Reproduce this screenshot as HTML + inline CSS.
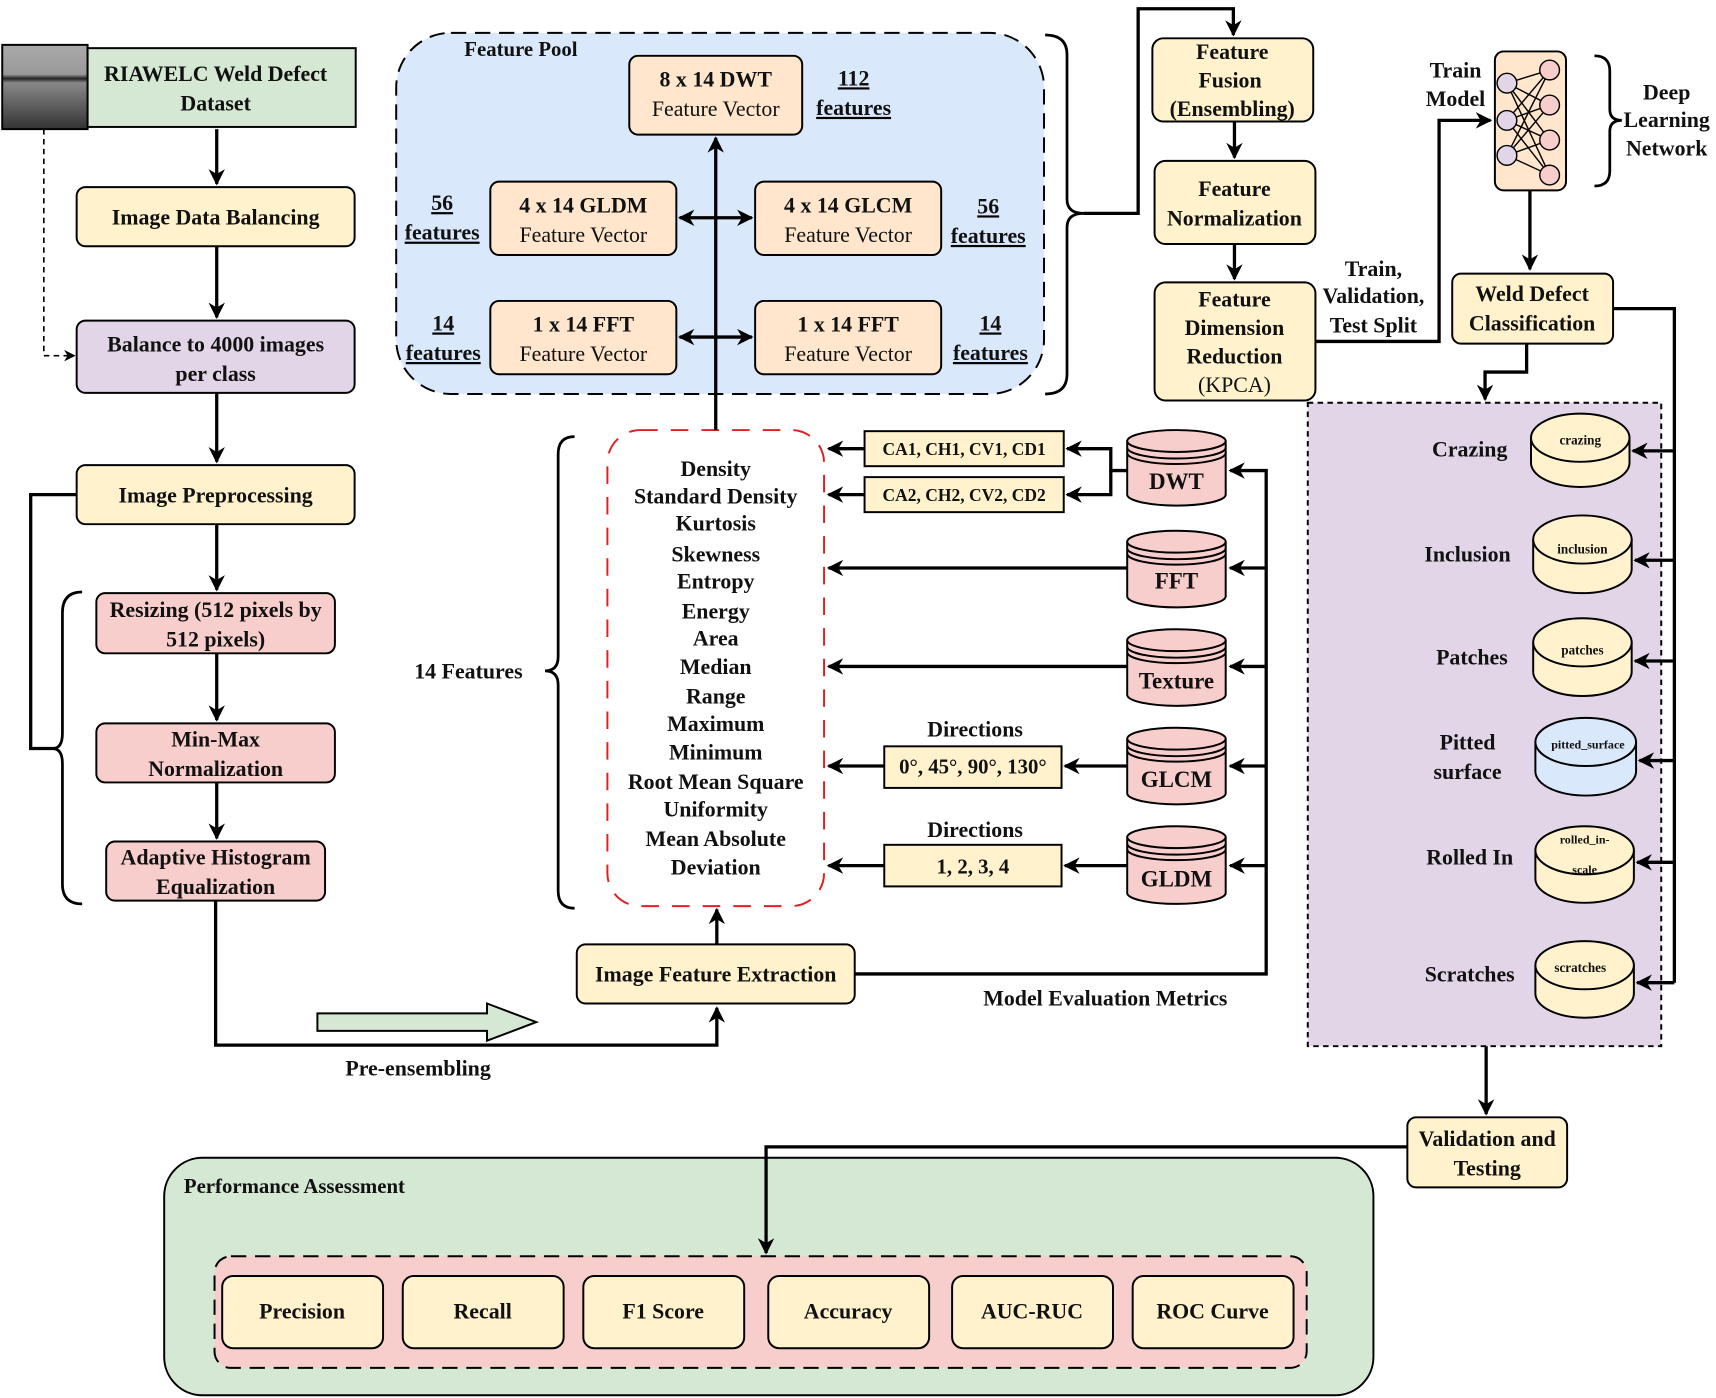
<!DOCTYPE html>
<html><head><meta charset="utf-8"><style>
html,body{margin:0;padding:0;background:#fff}
svg{display:block}
text{font-family:"Liberation Serif","Times New Roman",serif;font-weight:bold;fill:#111}
text.n{font-weight:normal}
</style></head><body>
<svg width="1716" height="1398" viewBox="0 0 1568 1277.5" xmlns="http://www.w3.org/2000/svg">
<defs>
<marker id="a" viewBox="0 0 10 10" refX="9" refY="5" markerWidth="5" markerHeight="5" orient="auto-start-reverse"><path d="M0,0 L10,5 L0,10 L3,5 z" fill="#000"/></marker>
<marker id="s" viewBox="0 0 10 10" refX="9" refY="5" markerWidth="7" markerHeight="7" orient="auto"><path d="M0,0 L10,5 L0,10 L3,5 z" fill="#000"/></marker>
<linearGradient id="g" x1="0" y1="0" x2="0" y2="1"><stop offset="0" stop-color="#aaa"/><stop offset="0.35" stop-color="#999"/><stop offset="0.4" stop-color="#222"/><stop offset="0.45" stop-color="#888"/><stop offset="1" stop-color="#333"/></linearGradient>
</defs>
<g stroke="#000" stroke-width="1.8">
<rect x="2" y="41" width="78" height="77" fill="url(#g)"/>
<rect x="80" y="44" width="245" height="72" fill="#d5e8d4"/>
<rect x="70" y="171" width="254" height="54" rx="8" fill="#fff2cc"/>
<rect x="70" y="293" width="254" height="66" rx="8" fill="#e1d5e7"/>
<rect x="70" y="425" width="254" height="54" rx="8" fill="#fff2cc"/>
<rect x="88" y="542" width="218" height="55" rx="8" fill="#f8cecc"/>
<rect x="88" y="661" width="218" height="54" rx="8" fill="#f8cecc"/>
<rect x="97" y="769" width="200" height="54" rx="8" fill="#f8cecc"/>
<rect x="362" y="30" width="592" height="330" rx="50" fill="#dae8fc" stroke-dasharray="14,8"/>
<rect x="575" y="51" width="158" height="72" rx="8" fill="#ffe6cc"/>
<rect x="448" y="166" width="170" height="67" rx="8" fill="#ffe6cc"/>
<rect x="690" y="166" width="170" height="67" rx="8" fill="#ffe6cc"/>
<rect x="448" y="275" width="170" height="67" rx="8" fill="#ffe6cc"/>
<rect x="690" y="275" width="170" height="67" rx="8" fill="#ffe6cc"/>
<rect x="1053" y="35" width="147" height="76" rx="10" fill="#fff2cc"/>
<rect x="1055" y="147" width="147" height="76" rx="10" fill="#fff2cc"/>
<rect x="1055" y="258" width="147" height="108" rx="10" fill="#fff2cc"/>
<rect x="1366" y="47" width="65" height="127" rx="8" fill="#ffe6cc"/>
<rect x="1327" y="250" width="147" height="64" rx="8" fill="#fff2cc"/>
<rect x="1195" y="368" width="323" height="588" fill="#e1d5e7" stroke-dasharray="5,4"/>
<rect x="1286" y="1021" width="146" height="64" rx="8" fill="#fff2cc"/>
<rect x="555" y="393" width="198" height="435" rx="30" fill="#fff" stroke="#e02020" stroke-dasharray="16,12"/>
<rect x="527" y="863" width="254" height="54" rx="8" fill="#fff2cc"/>
<rect x="790" y="394" width="182" height="32" fill="#fff2cc"/>
<rect x="790" y="436" width="182" height="32" fill="#fff2cc"/>
<rect x="808" y="682" width="162" height="38" fill="#fff2cc"/>
<rect x="808" y="772" width="162" height="38" fill="#fff2cc"/>
<rect x="150" y="1058" width="1105" height="217" rx="35" fill="#d5e8d4"/>
<rect x="196" y="1148" width="998" height="102" rx="15" fill="#f8cecc" stroke-dasharray="14,8"/>
<rect x="203" y="1166" width="147" height="66" rx="10" fill="#fff2cc"/>
<rect x="368" y="1166" width="147" height="66" rx="10" fill="#fff2cc"/>
<rect x="533" y="1166" width="147" height="66" rx="10" fill="#fff2cc"/>
<rect x="702" y="1166" width="147" height="66" rx="10" fill="#fff2cc"/>
<rect x="870" y="1166" width="147" height="66" rx="10" fill="#fff2cc"/>
<rect x="1035" y="1166" width="147" height="66" rx="10" fill="#fff2cc"/>
<path d="M290,926 H445 V917 L490,934 L445,951 V942 H290 Z" fill="#d5e8d4"/>
</g>
<g stroke="#000" stroke-width="1.8" fill="#f8cecc">
<path d="M1030,403 V452 A45,10 0 0 0 1120,452 V403"/><ellipse cx="1075" cy="403" rx="45" ry="10"/><path d="M1030,409 A45,10 0 0 0 1120,409 M1030,414 A45,10 0 0 0 1120,414" fill="none"/>
<path d="M1030,495 V545 A45,10 0 0 0 1120,545 V495"/><ellipse cx="1075" cy="495" rx="45" ry="10"/><path d="M1030,501 A45,10 0 0 0 1120,501 M1030,506 A45,10 0 0 0 1120,506" fill="none"/>
<path d="M1030,585 V635 A45,10 0 0 0 1120,635 V585"/><ellipse cx="1075" cy="585" rx="45" ry="10"/><path d="M1030,591 A45,10 0 0 0 1120,591 M1030,596 A45,10 0 0 0 1120,596" fill="none"/>
<path d="M1030,675 V725 A45,10 0 0 0 1120,725 V675"/><ellipse cx="1075" cy="675" rx="45" ry="10"/><path d="M1030,681 A45,10 0 0 0 1120,681 M1030,686 A45,10 0 0 0 1120,686" fill="none"/>
<path d="M1030,765 V816 A45,10 0 0 0 1120,816 V765"/><ellipse cx="1075" cy="765" rx="45" ry="10"/><path d="M1030,771 A45,10 0 0 0 1120,771 M1030,776 A45,10 0 0 0 1120,776" fill="none"/>
</g>
<g stroke="#000" stroke-width="1.8" fill="#fff2cc">
<path d="M1399,400 V423 A45,22 0 0 0 1489,423 V400"/><ellipse cx="1444" cy="400" rx="45" ry="22"/>
<path d="M1401,493 V520 A45,22 0 0 0 1491,520 V493"/><ellipse cx="1446" cy="493" rx="45" ry="22"/>
<path d="M1401,587 V614 A45,22 0 0 0 1491,614 V587"/><ellipse cx="1446" cy="587" rx="45" ry="22"/>
<path d="M1403,678 V705 A46,22 0 0 0 1495,705 V678" fill="#dae8fc"/><ellipse cx="1449" cy="678" rx="46" ry="22" fill="#dae8fc"/>
<path d="M1403,777 V803 A45,22 0 0 0 1493,803 V777"/><ellipse cx="1448" cy="777" rx="45" ry="22"/>
<path d="M1403,882 V908 A45,22 0 0 0 1493,908 V882"/><ellipse cx="1448" cy="882" rx="45" ry="22"/>
</g>
<g stroke="#000" stroke-width="1.3">
<path d="M1377,76 L1416,64 M1377,76 L1416,96 M1377,76 L1416,128 M1377,76 L1416,160 M1377,110 L1416,64 M1377,110 L1416,96 M1377,110 L1416,128 M1377,110 L1416,160 M1377,142 L1416,64 M1377,142 L1416,96 M1377,142 L1416,128 M1377,142 L1416,160"/>
<g fill="#e1d5e7"><circle cx="1377" cy="76" r="9"/><circle cx="1377" cy="110" r="9"/><circle cx="1377" cy="142" r="9"/></g>
<g fill="#f8cecc"><circle cx="1416" cy="64" r="9"/><circle cx="1416" cy="96" r="9"/><circle cx="1416" cy="128" r="9"/><circle cx="1416" cy="160" r="9"/></g>
</g>
<g stroke="#000" stroke-width="3" fill="none">
<path d="M198,118 V168" marker-end="url(#a)"/>
<path d="M198,225 V290" marker-end="url(#a)"/>
<path d="M198,359 V422" marker-end="url(#a)"/>
<path d="M198,479 V539" marker-end="url(#a)"/>
<path d="M198,597 V658" marker-end="url(#a)"/>
<path d="M198,715 V766" marker-end="url(#a)"/>
<path d="M70,452 H28 V684 H52"/>
<path d="M75,541 Q57,541 57,560 V670 Q57,684 48,684 Q57,684 57,698 V808 Q57,826 75,826" stroke-width="2.5"/>
<path d="M197,823 V955 H655 V921" marker-end="url(#a)"/>
<path d="M655,863 V831" marker-end="url(#a)"/>
<path d="M654,393 V126" marker-end="url(#a)"/>
<path d="M621,199 H687" marker-start="url(#a)" marker-end="url(#a)"/>
<path d="M621,308 H687" marker-start="url(#a)" marker-end="url(#a)"/>
<path d="M525,399 Q510,399 510,415 V600 Q510,613 498,613 Q510,613 510,626 V814 Q510,830 525,830" stroke-width="2.5"/>
<path d="M955,32 Q975,32 975,50 V182 Q975,195 990,195 Q975,195 975,208 V342 Q975,360 955,360" stroke-width="2.5"/>
<path d="M1457,51 Q1471,51 1471,65 V100 Q1471,110 1482,110 Q1471,110 1471,120 V156 Q1471,170 1457,170" stroke-width="2.5"/>
<path d="M990,195 H1040 V8 H1127 V32" marker-end="url(#a)"/>
<path d="M1128,111 V144" marker-end="url(#a)"/>
<path d="M1128,223 V255" marker-end="url(#a)"/>
<path d="M1202,312 H1315 V110 H1362" marker-end="url(#a)"/>
<path d="M1398,174 V246" marker-end="url(#a)"/>
<path d="M1395,314 V340 H1357 V365" marker-end="url(#a)"/>
<path d="M1474,282 H1530 V898"/>
<path d="M1530,412 H1492" marker-end="url(#a)"/>
<path d="M1530,512 H1494" marker-end="url(#a)"/>
<path d="M1530,604 H1494" marker-end="url(#a)"/>
<path d="M1530,695 H1498" marker-end="url(#a)"/>
<path d="M1530,788 H1496" marker-end="url(#a)"/>
<path d="M1530,898 H1496" marker-end="url(#a)"/>
<path d="M1358,956 V1018" marker-end="url(#a)"/>
<path d="M1286,1048 H700 V1145" marker-end="url(#a)"/>
<path d="M781,890 H1157 V430 H1124" marker-end="url(#a)"/>
<path d="M1157,519 H1124" marker-end="url(#a)"/>
<path d="M1157,609 H1124" marker-end="url(#a)"/>
<path d="M1157,700 H1124" marker-end="url(#a)"/>
<path d="M1157,791 H1124" marker-end="url(#a)"/>
<path d="M1030,430 H1015 V410 H975" marker-end="url(#a)"/>
<path d="M1015,430 V452 H975" marker-end="url(#a)"/>
<path d="M790,410 H757" marker-end="url(#a)"/>
<path d="M790,452 H757" marker-end="url(#a)"/>
<path d="M1030,519 H757" marker-end="url(#a)"/>
<path d="M1030,609 H757" marker-end="url(#a)"/>
<path d="M1030,700 H973" marker-end="url(#a)"/>
<path d="M808,700 H757" marker-end="url(#a)"/>
<path d="M1030,791 H973" marker-end="url(#a)"/>
<path d="M808,791 H757" marker-end="url(#a)"/>
</g>
<path d="M40,118 V325 H68" stroke="#000" stroke-width="1.5" fill="none" stroke-dasharray="5,4" marker-end="url(#s)"/>
<g font-size="20" text-anchor="middle">
<text x="197" y="74">RIAWELC Weld Defect</text><text x="197" y="101">Dataset</text>
<text x="197" y="205">Image Data Balancing</text>
<text x="197" y="321">Balance to 4000 images</text><text x="197" y="348">per class</text>
<text x="197" y="459">Image Preprocessing</text>
<text x="197" y="564">Resizing (512 pixels by</text><text x="197" y="591">512 pixels)</text>
<text x="197" y="682">Min-Max</text><text x="197" y="709">Normalization</text>
<text x="197" y="790">Adaptive Histogram</text><text x="197" y="817">Equalization</text>
<text x="476" y="51" font-size="19">Feature Pool</text>
<text x="654" y="79">8 x  14 DWT</text><text x="654" y="106" class="n">Feature Vector</text>
<text x="533" y="194">4 x 14 GLDM</text><text x="533" y="221" class="n">Feature Vector</text>
<text x="775" y="194">4 x 14 GLCM</text><text x="775" y="221" class="n">Feature Vector</text>
<text x="533" y="303">1 x 14 FFT</text><text x="533" y="330" class="n">Feature Vector</text>
<text x="775" y="303">1 x 14 FFT</text><text x="775" y="330" class="n">Feature Vector</text>
<g text-decoration="underline">
<text x="780" y="78">112</text><text x="780" y="105">features</text>
<text x="404" y="192">56</text><text x="404" y="219">features</text>
<text x="903" y="195">56</text><text x="903" y="222">features</text>
<text x="405" y="302">14</text><text x="405" y="329">features</text>
<text x="905" y="302">14</text><text x="905" y="329">features</text>
</g>
<text x="1126" y="54">Feature</text><text x="1124" y="80">Fusion</text><text x="1126" y="106">(Ensembling)</text>
<text x="1128" y="179">Feature</text><text x="1128" y="206">Normalization</text>
<text x="1128" y="280">Feature</text><text x="1128" y="306">Dimension</text><text x="1128" y="332">Reduction</text><text x="1128" y="358" class="n">(KPCA)</text>
<text x="1255" y="252">Train,</text><text x="1255" y="277">Validation,</text><text x="1255" y="304">Test Split</text>
<text x="1330" y="71">Train</text><text x="1330" y="97">Model</text>
<text x="1523" y="91">Deep</text><text x="1523" y="116">Learning</text><text x="1523" y="142">Network</text>
<text x="1400" y="275">Weld Defect</text><text x="1400" y="302">Classification</text>
<text x="1343" y="417">Crazing</text>
<text x="1341" y="513">Inclusion</text>
<text x="1345" y="607">Patches</text>
<text x="1341" y="685">Pitted</text><text x="1341" y="712">surface</text>
<text x="1343" y="790">Rolled In</text>
<text x="1343" y="897">Scratches</text>
<text x="1359" y="1047">Validation and</text><text x="1359" y="1074">Testing</text>
<text x="654" y="897">Image Feature Extraction</text>
<text x="382" y="983">Pre-ensembling</text>
<text x="1010" y="919">Model Evaluation Metrics</text>
<text x="428" y="620">14 Features</text>
<text x="891" y="673">Directions</text><text x="891" y="765">Directions</text>
<text x="889" y="707" font-size="19">0°, 45°, 90°, 130°</text>
<text x="889" y="798" font-size="19">1, 2, 3, 4</text>
<text x="881" y="416" font-size="16">CA1, CH1, CV1, CD1</text>
<text x="881" y="458" font-size="16">CA2, CH2, CV2, CD2</text>
<text x="1075" y="447" font-size="21">DWT</text>
<text x="1075" y="538" font-size="21">FFT</text>
<text x="1075" y="629" font-size="21">Texture</text>
<text x="1075" y="719" font-size="21">GLCM</text>
<text x="1075" y="810" font-size="21">GLDM</text>
<text x="1444" y="406" font-size="12">crazing</text>
<text x="1446" y="506" font-size="12">inclusion</text>
<text x="1446" y="598" font-size="12">patches</text>
<text x="1451" y="684" font-size="11">pitted_surface</text>
<text x="1448" y="771" font-size="11">rolled_in-</text><text x="1448" y="798" font-size="11">scale</text>
<text x="1444" y="888" font-size="12">scratches</text>
<text x="276" y="1205">Precision</text>
<text x="441" y="1205">Recall</text>
<text x="606" y="1205">F1 Score</text>
<text x="775" y="1205">Accuracy</text>
<text x="943" y="1205">AUC-RUC</text>
<text x="1108" y="1205">ROC Curve</text>
<g>
<text x="654" y="435">Density</text><text x="654" y="460">Standard Density</text><text x="654" y="485">Kurtosis</text><text x="654" y="513">Skewness</text><text x="654" y="538">Entropy</text><text x="654" y="565">Energy</text><text x="654" y="590">Area</text><text x="654" y="616">Median</text><text x="654" y="643">Range</text><text x="654" y="668">Maximum</text><text x="654" y="694">Minimum</text><text x="654" y="721">Root Mean Square</text><text x="654" y="746">Uniformity</text><text x="654" y="773">Mean Absolute</text><text x="654" y="799">Deviation</text>
</g>
</g>
<text x="168" y="1090" font-size="19">Performance Assessment</text>
</svg>
</body></html>
